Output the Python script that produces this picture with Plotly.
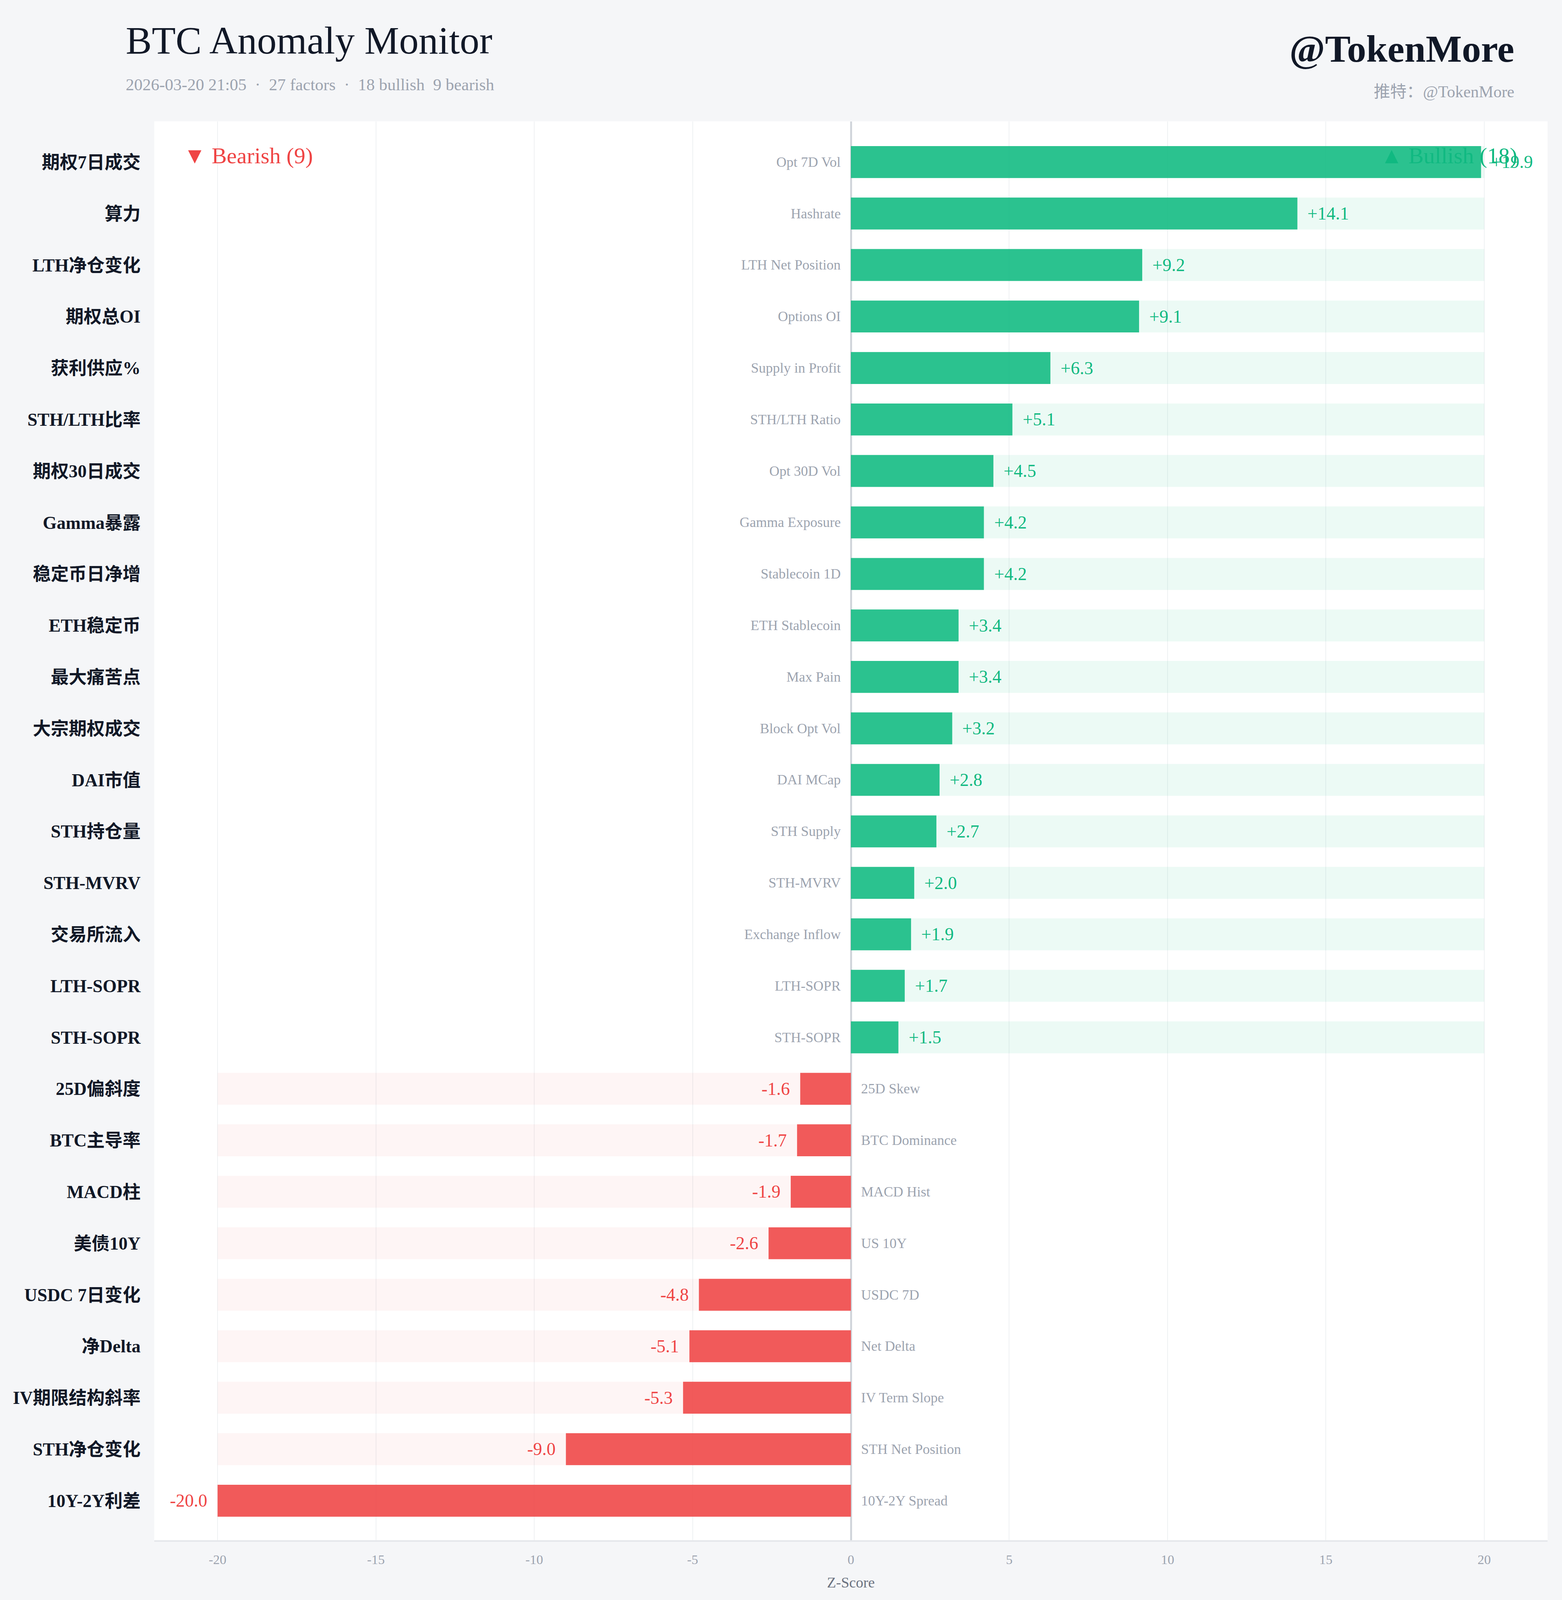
import plotly.graph_objects as go

# factor data, top to bottom
names_cn = ["期权7日成交", "算力", "LTH净仓变化", "期权总OI", "获利供应%", "STH/LTH比率",
            "期权30日成交", "Gamma暴露", "稳定币日净增", "ETH稳定币", "最大痛苦点", "大宗期权成交",
            "DAI市值", "STH持仓量", "STH-MVRV", "交易所流入", "LTH-SOPR", "STH-SOPR",
            "25D偏斜度", "BTC主导率", "MACD柱", "美债10Y", "USDC 7日变化", "净Delta",
            "IV期限结构斜率", "STH净仓变化", "10Y-2Y利差"]
names_en = ["Opt 7D Vol", "Hashrate", "LTH Net Position", "Options OI", "Supply in Profit",
            "STH/LTH Ratio", "Opt 30D Vol", "Gamma Exposure", "Stablecoin 1D", "ETH Stablecoin",
            "Max Pain", "Block Opt Vol", "DAI MCap", "STH Supply", "STH-MVRV", "Exchange Inflow",
            "LTH-SOPR", "STH-SOPR", "25D Skew", "BTC Dominance", "MACD Hist", "US 10Y",
            "USDC 7D", "Net Delta", "IV Term Slope", "STH Net Position", "10Y-2Y Spread"]
zscores = [19.9, 14.1, 9.2, 9.1, 6.3, 5.1, 4.5, 4.2, 4.2, 3.4, 3.4, 3.2, 2.8, 2.7, 2.0, 1.9,
           1.7, 1.5, -1.6, -1.7, -1.9, -2.6, -4.8, -5.1, -5.3, -9.0, -20.0]
x_ticks = [-20, -15, -10, -5, 0, 5, 10, 15, 20]
cap = 20

title = "BTC Anomaly Monitor"
subtitle = "2026-03-20 21:05  ·  27 factors  ·  18 bullish  9 bearish"
brand = "@TokenMore"
brand_sub = "推特：@TokenMore"

GREEN = "#10b981"
RED = "#ef4444"
FONT = "Liberation Serif, Noto Sans CJK SC, serif"

# layout is given as fractions of the 4000x6275 page so it follows the window size
W, H = 4000, 6275


def fx(p):
    return p / W


def fy(p):
    return 1 - p / H


n_bull = sum(1 for v in zscores if v > 0)
n_bear = len(zscores) - n_bull

bar_col = ["rgba(16,185,129,0.88)" if v > 0 else "rgba(239,68,68,0.88)" for v in zscores]
bg_col = ["rgba(16,185,129,0.08)" if v > 0 else "rgba(239,68,68,0.055)" for v in zscores]

fig = go.Figure()
fig.add_trace(go.Bar(
    y=names_cn, x=[cap if v > 0 else -cap for v in zscores], orientation="h",
    marker=dict(color=bg_col, line=dict(width=0)), width=0.62, hoverinfo="skip",
    showlegend=False))
fig.add_trace(go.Bar(
    y=names_cn, x=zscores, orientation="h",
    marker=dict(color=bar_col, line=dict(width=0)), width=0.62,
    customdata=names_en, hovertemplate="%{y} (%{customdata}): %{x}<extra></extra>",
    showlegend=False))

ann = []
for cn, en, v in zip(names_cn, names_en, zscores):
    pos = v > 0
    # english name next to the zero line
    ann.append(dict(
        x=0, y=cn, xref="x", yref="y", text=en, showarrow=False,
        xanchor="right" if pos else "left", xshift=-24 if pos else 24,
        font=dict(size=36, color="#9ca3af", family=FONT)))
    # value label at the bar end
    ann.append(dict(
        x=v, y=cn, xref="x", yref="y", text=f"{v:+.1f}", showarrow=False,
        xanchor="left" if pos else "right", xshift=24 if pos else -24,
        font=dict(size=46, color=GREEN if pos else RED, family=FONT)))

ann += [
    dict(x=fx(320), y=fy(158), xref="paper", yref="paper", text=title, showarrow=False,
         xanchor="left", yanchor="middle", font=dict(size=100, color="#111827", family=FONT)),
    dict(x=fx(320), y=fy(332), xref="paper", yref="paper", text=subtitle, showarrow=False,
         xanchor="left", yanchor="middle", font=dict(size=43, color="#9ca3af", family=FONT)),
    dict(x=fx(3880), y=fy(192), xref="paper", yref="paper", text=brand, showarrow=False,
         xanchor="right", yanchor="middle",
         font=dict(size=98, color="#111827", family=FONT, weight="bold")),
    dict(x=fx(3880), y=fy(360), xref="paper", yref="paper", text=brand_sub, showarrow=False,
         xanchor="right", yanchor="middle", font=dict(size=42, color="#9ca3af", family=FONT)),
    dict(x=fx(468), y=fy(610), xref="paper", yref="paper", text=f"▼ Bearish ({n_bear})",
         showarrow=False, xanchor="left", yanchor="middle",
         font=dict(size=58, color=RED, family=FONT)),
    dict(x=fx(3888), y=fy(610), xref="paper", yref="paper", text=f"▲ Bullish ({n_bull})",
         showarrow=False, xanchor="right", yanchor="middle",
         font=dict(size=58, color=GREEN, family=FONT)),
]

# plot area drawn as a white rectangle behind the axes domain
fig.add_shape(type="rect", xref="paper", yref="paper", layer="below",
              x0=fx(395), x1=fx(3963), y0=fy(6041), y1=fy(476),
              fillcolor="#ffffff", line=dict(width=0))

n = len(names_cn)
fig.update_layout(
    autosize=True,
    margin=dict(l=0, r=0, t=0, b=0, autoexpand=False),
    paper_bgcolor="#f5f6f8", plot_bgcolor="#ffffff",
    barmode="overlay", bargap=0.38,
    font=dict(family=FONT, color="#111827"),
    annotations=ann,
    xaxis=dict(
        domain=[fx(395), fx(3963)],
        range=[-22, 22], tickvals=x_ticks, ticktext=[str(t) for t in x_ticks],
        showgrid=True, gridcolor="#eff1f3", gridwidth=2,
        zeroline=True, zerolinecolor="#d1d5db", zerolinewidth=5,
        showline=True, linecolor="#e5e7eb", linewidth=4,
        tickfont=dict(size=34, color="#9ca3af", family=FONT),
        ticks="", ticklabelstandoff=16, automargin=False,
        title=dict(text="Z-Score", font=dict(size=38, color="#6b7280", family=FONT), standoff=28),
    ),
    yaxis=dict(
        domain=[fy(6041), fy(476)],
        type="category", categoryorder="array", categoryarray=names_cn,
        range=[n - 1 + 0.77, -0.79],
        showgrid=False, zeroline=False, showline=False, ticks="",
        tickfont=dict(size=46, color="#111827", family=FONT, weight="bold"),
        ticklabelstandoff=34, automargin=False,
    ),
)

# fill the browser window, no body margin
fig.write_html("out.html", default_width="100vw", default_height="100vh",
               config={"responsive": True, "displayModeBar": False},
               post_script="document.body.style.margin='0';"
                           "Plotly.Plots.resize(document.getElementById('{plot_id}'));")
